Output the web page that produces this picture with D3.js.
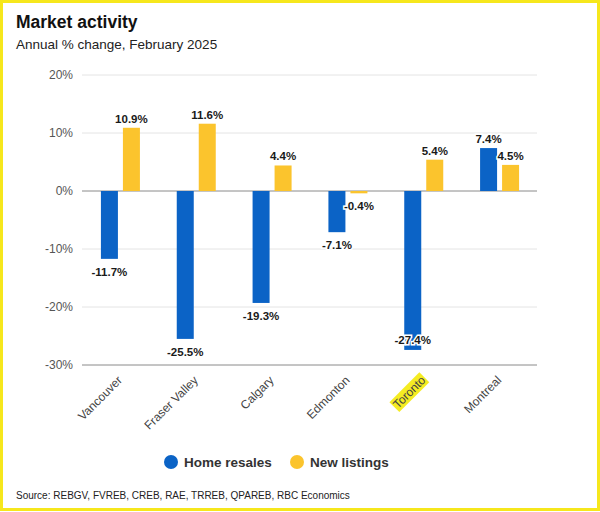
<!DOCTYPE html>
<html>
<head>
<meta charset="utf-8">
<script src="https://cdn.jsdelivr.net/npm/d3@7"></script>
<style>
  body { margin: 0; background: #fff; }
  text { font-family: "Liberation Sans", Arial, sans-serif; }
</style>
</head>
<body>
<div class="container"></div>
<script>
// chart data
const cities = ["Vancouver", "Fraser Valley", "Calgary", "Edmonton", "Toronto", "Montreal"];
const homeResales = [-11.7, -25.5, -19.3, -7.1, -27.4, 7.4];
const newListings = [10.9, 11.6, 4.4, -0.4, 5.4, 4.5];
const yTicks = [20, 10, 0, -10, -20, -30];
const seriesNames = ["Home resales", "New listings"];
const seriesColors = ["#0b63c6", "#fbc42d"];
const highlightCity = "Toronto";

const width = 600;
const height = 512;
const margin = { top: 75, bottom: 147, left: 82, right: 63 };

const svg = d3.select(".container")
  .append("svg")
  .attr("width", width)
  .attr("height", height);

// yellow frame
svg.append("rect")
  .attr("x", 1.5).attr("y", 1.5)
  .attr("width", width - 3).attr("height", height - 4)
  .attr("fill", "#fff")
  .attr("stroke", "#f6e71c")
  .attr("stroke-width", 3);

// title + subtitle
svg.append("text")
  .attr("x", 16).attr("y", 28)
  .attr("font-size", "17.5px").attr("font-weight", "bold")
  .attr("fill", "#111")
  .text("Market activity");
svg.append("text")
  .attr("x", 16).attr("y", 49)
  .attr("font-size", "13.5px")
  .attr("fill", "#222")
  .text("Annual % change, February 2025");

const xScale = d3.scaleBand()
  .domain(cities)
  .range([margin.left, width - margin.right]);

const yScale = d3.scaleLinear()
  .domain([-30, 20])
  .range([height - margin.bottom, margin.top]);

// gridlines
svg.append("g")
  .selectAll("line")
  .data(yTicks)
  .join("line")
  .attr("x1", margin.left)
  .attr("x2", width - margin.right)
  .attr("y1", d => yScale(d))
  .attr("y2", d => yScale(d))
  .attr("stroke", d => (d === 0 || d === -30) ? "#8a8a8a" : "#e4e4e4")
  .attr("stroke-width", 1);

// y tick labels
svg.append("g")
  .selectAll("text")
  .data(yTicks)
  .join("text")
  .attr("x", 73)
  .attr("y", d => yScale(d) + 4)
  .attr("text-anchor", "end")
  .attr("font-size", "12px")
  .attr("fill", "#555")
  .text(d => d + "%");

const barW = 17;
const offsets = [-19, 3]; // left edge offset from band centre

const series = [homeResales, newListings];
const bars = [];
series.forEach((vals, s) => {
  vals.forEach((v, i) => {
    bars.push({ city: cities[i], value: v, s: s });
  });
});

const cx = d => xScale(d.city) + xScale.bandwidth() / 2 + offsets[d.s];

svg.append("g")
  .selectAll("rect")
  .data(bars)
  .join("rect")
  .attr("x", d => cx(d))
  .attr("y", d => yScale(Math.max(0, d.value)))
  .attr("width", barW)
  .attr("height", d => Math.max(1, Math.abs(yScale(d.value) - yScale(0))))
  .attr("fill", d => seriesColors[d.s]);

// value labels
svg.append("g")
  .selectAll("text")
  .data(bars)
  .join("text")
  .attr("x", d => cx(d) + barW / 2)
  .attr("y", d => {
    const end = yScale(d.value);
    if (d.value >= 0) return end - 5;
    if (end + 17 > yScale(-30)) return end - 6;
    return end + 17;
  })
  .attr("text-anchor", "middle")
  .attr("font-size", "11.5px")
  .attr("font-weight", "bold")
  .attr("fill", "#1a1a1a")
  .attr("stroke", "#fff")
  .attr("stroke-width", 3)
  .attr("paint-order", "stroke")
  .text(d => d.value.toFixed(1) + "%");

// x labels, rotated
const xl = svg.append("g")
  .selectAll("g")
  .data(cities)
  .join("g")
  .attr("transform", d => `translate(${xScale(d) + xScale.bandwidth() / 2},${yScale(-30) + 13}) rotate(-45)`);

xl.append("text")
  .attr("text-anchor", "end")
  .attr("dy", "0.35em")
  .attr("font-size", "12px")
  .attr("fill", "#444")
  .text(d => d)
  .each(function(d) {
    if (d === highlightCity) {
      const bb = this.getBBox();
      d3.select(this.parentNode).insert("rect", "text")
        .attr("x", bb.x - 1).attr("y", bb.y)
        .attr("width", bb.width + 2).attr("height", bb.height)
        .attr("fill", "#f5ec22");
    }
  });

// legend
const legendX = [171, 297];
const legend = svg.append("g")
  .selectAll("g")
  .data(seriesNames)
  .join("g")
  .attr("transform", (d, i) => `translate(${legendX[i]},462)`);
legend.append("circle")
  .attr("r", 7)
  .attr("fill", (d, i) => seriesColors[i]);
legend.append("text")
  .attr("x", 13)
  .attr("y", 5)
  .attr("font-size", "13.5px")
  .attr("font-weight", "bold")
  .attr("fill", "#333")
  .text(d => d);

// source
svg.append("text")
  .attr("x", 16).attr("y", 499)
  .attr("font-size", "10px")
  .attr("fill", "#222")
  .text("Source: REBGV, FVREB, CREB, RAE, TRREB, QPAREB, RBC Economics");
</script>
</body>
</html>
